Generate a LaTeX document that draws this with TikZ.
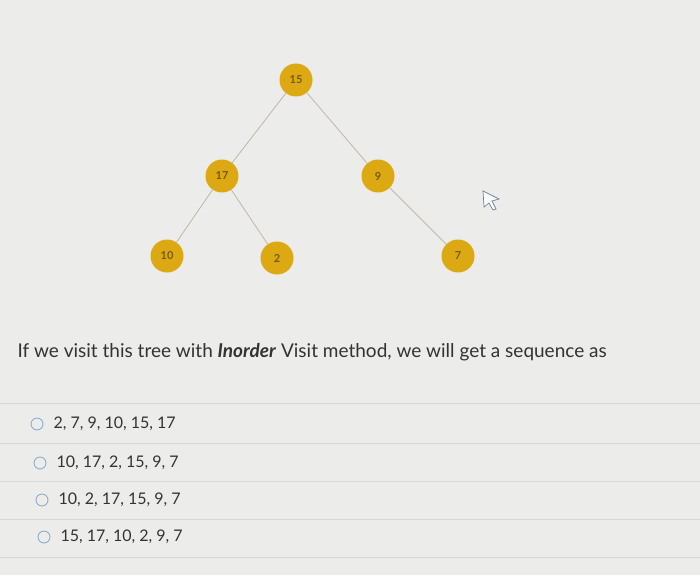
\documentclass[tikz,border=0pt]{standalone}
\usepackage{fontspec}
\setmainfont{Lato}
\begin{document}
\begin{tikzpicture}[x=1pt,y=-1pt,
  tn/.style={circle,fill=gold,minimum size=33pt,inner sep=0pt,font=\fontsize{11}{12}\selectfont\bfseries,text=numcol},
  ed/.style={draw=edgecol,line width=0.8pt},
  opt/.style={circle,draw=radcol,line width=0.8pt,minimum size=12pt,inner sep=0pt},
  otext/.style={anchor=west,font=\fontsize{16}{18}\selectfont,text=txt},
  sep/.style={draw=sepcol,line width=0.6pt}]
\definecolor{gold}{HTML}{DDA912}
\definecolor{numcol}{HTML}{7A5A10}
\definecolor{edgecol}{HTML}{BDB8A8}
\definecolor{radcol}{HTML}{7FA7C8}
\definecolor{txt}{HTML}{333333}
\definecolor{sepcol}{HTML}{D8D8D8}
\definecolor{bg}{HTML}{ECECEA}
\fill[bg] (0,0) rectangle (700,575);
\useasboundingbox (0,0) rectangle (700,575);
\node[tn] (n15) at (296,80) {15};
\node[tn] (n17) at (222,176) {17};
\node[tn] (n9) at (378,176) {9};
\node[tn] (n10) at (167,256) {10};
\node[tn] (n2) at (277,258) {2};
\node[tn] (n7) at (458,256) {7};
\draw[ed] (n15) -- (n17);
\draw[ed] (n15) -- (n9);
\draw[ed] (n17) -- (n10);
\draw[ed] (n17) -- (n2);
\draw[ed] (n9) -- (n7);
% mouse cursor
\draw[draw=radcol!80!black,fill=white,line width=0.7pt] (483,191) -- (499,199) -- (492,201) -- (496,209) -- (493,210) -- (489,203) -- (484,207) -- cycle;
\node[anchor=west,font=\fontsize{19}{22}\selectfont,text=txt] (q) at (14,352) {If we visit this tree with \textbf{\textit{Inorder}} Visit method, we will get a sequence as};
\draw[sep] (0,403) -- (700,403);
\draw[sep] (0,443) -- (700,443);
\draw[sep] (0,481) -- (700,481);
\draw[sep] (0,519) -- (700,519);
\draw[sep] (0,557) -- (700,557);
\node[opt] (r1) at (37,424) {};
\node[otext] (t1) at (50,424) {2, 7, 9, 10, 15, 17};
\node[opt] (r2) at (40,463) {};
\node[otext] (t2) at (53,463) {10, 17, 2, 15, 9, 7};
\node[opt] (r3) at (42,500) {};
\node[otext] (t3) at (55,500) {10, 2, 17, 15, 9, 7};
\node[opt] (r4) at (44,537) {};
\node[otext] (t4) at (57,537) {15, 17, 10, 2, 9, 7};
\end{tikzpicture}
\end{document}
